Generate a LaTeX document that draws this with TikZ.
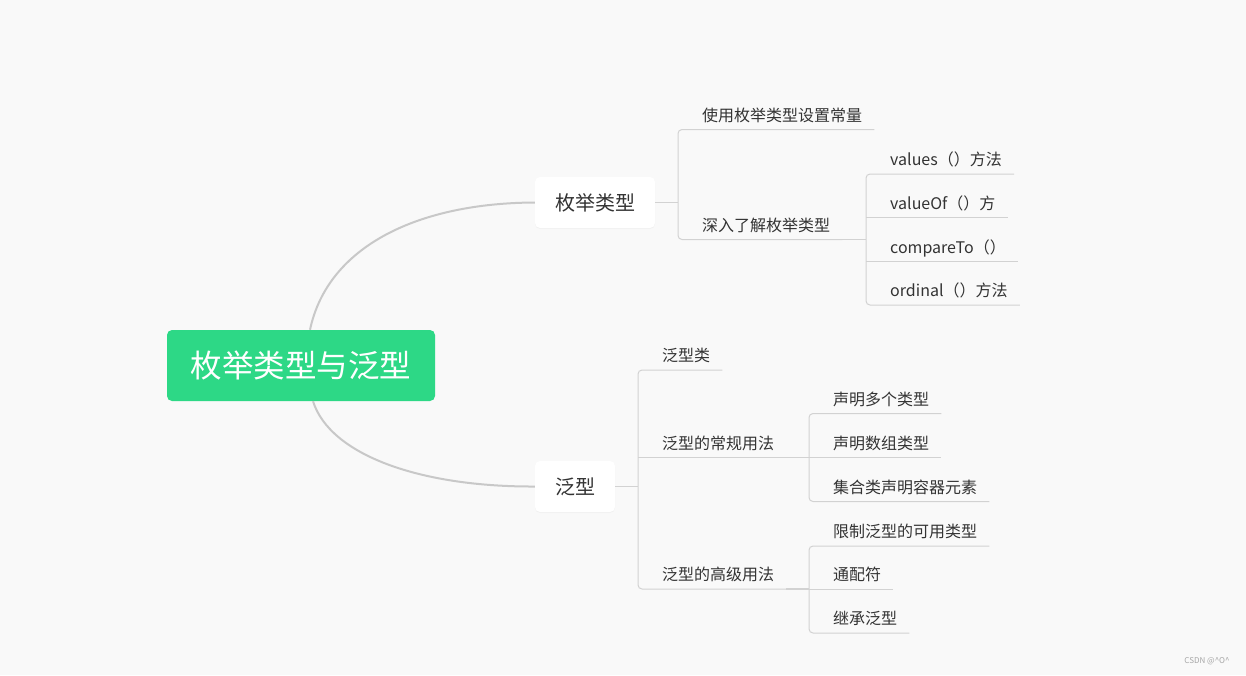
\documentclass[tikz,border=0pt]{standalone}
\usepackage{fontspec}
\setmainfont{Noto Sans CJK SC}
\usepackage{tikz}
\usetikzlibrary{positioning, calc, shadows}
\definecolor{bgc}{HTML}{F9F9F9}
\definecolor{rootgreen}{HTML}{2DD886}
\definecolor{ink}{HTML}{333333}
\definecolor{twigc}{HTML}{D2D2D2}
\definecolor{curvec}{HTML}{C8C8C8}
\tikzset{
  topic/.style={fill=white, rounded corners=5pt, text=ink, inner sep=0pt,
    minimum height=51pt, font=\fontsize{20}{20}\selectfont,
    drop shadow={opacity=0.06, shadow xshift=0pt, shadow yshift=-1pt}},
  leaf/.style={anchor=south west, inner xsep=12pt, inner ysep=8pt, text depth=0pt,
    text=ink, font=\fontsize{16}{16}\selectfont, execute at begin node=\hspace*{12pt}},
  twig/.style={draw=twigc, line width=1pt},
  stem/.style={draw=twigc, line width=1.6pt},
  limb/.style={draw=curvec, line width=2pt}
}

\begin{document}
\begin{tikzpicture}[x=1pt, y=-1pt]
    % Canvas
    \fill[bgc] (0,0) rectangle (1246,675);
    \useasboundingbox (0,0) rectangle (1246,675);

    % Root and main topics
    \node[fill=rootgreen, rounded corners=5pt, text=white, minimum width=268pt, minimum height=71pt,
        inner sep=0pt, font=\fontsize{31.5}{31.5}\selectfont] (root) at (301,365.5) {枚举类型与泛型};
    \node[topic, minimum width=120pt] (enum) at (595,202.5) {枚举类型};
    \node[topic, minimum width=80pt] (gen) at (575,486.5) {泛型};

    % Curves from the root
    \draw[limb] ([xshift=9pt]root.north) .. controls (328,245) and (420,203) .. (enum.west);
    \draw[limb] ([xshift=12pt]root.south) .. controls (330,455) and (420,487) .. (gen.west);

    % Enum branch
    \node[leaf] (a1) at (678,129.5) {使用枚举类型设置常量};
    \node[leaf] (a2) at (678,239.5) {深入了解枚举类型};
    \foreach \name/\y/\txt in {b1/174/values（）方法, b2/217.5/valueOf（）方,
                               b3/261.5/compareTo（）, b4/305/ordinal（）方法} {
        \node[leaf] (\name) at (866,\y) {\txt};
    }

    % Generic branch
    \node[leaf] (c1) at (638,370) {泛型类};
    \node[leaf] (c2) at (638,457.5) {泛型的常规用法};
    \node[leaf] (c3) at (638,589) {泛型的高级用法};
    \foreach \name/\y/\txt in {d1/413.5/声明多个类型, d2/457.5/声明数组类型, d3/501.5/集合类声明容器元素,
                               e1/546/限制泛型的可用类型, e2/589/通配符, e3/633/继承泛型} {
        \node[leaf] (\name) at (809,\y) {\txt};
    }

    % Brackets
    \foreach \top/\bot in {a1/a2, b1/b4, c1/c3, d1/d3, e1/e3} {
        \draw[twig, rounded corners=4pt] (\top.south east) -- (\top.south west)
            -- (\bot.south west) -- (\bot.south east);
    }
    \foreach \name in {b2, b3, c2, d2, e2} {
        \draw[twig] (\name.south west) -- (\name.south east);
    }

    % Stems into the brackets
    \draw[twig] (enum.east) -- (enum.east -| a1.south west);
    \draw[twig] (gen.east) -- (gen.east -| c1.south west);
    \draw[stem] (a2.south east) -- (a2.south east -| b1.south west);
    \draw[stem] (c2.south east) -- (d2.south west);
    \draw[stem] (c3.south east) -- (e2.south west);

    % Watermark
    \node[text=gray!70, font=\fontsize{8}{8}\selectfont] (mark) at (1207,661) {CSDN @\textasciicircum O\textasciicircum};
\end{tikzpicture}
\end{document}
